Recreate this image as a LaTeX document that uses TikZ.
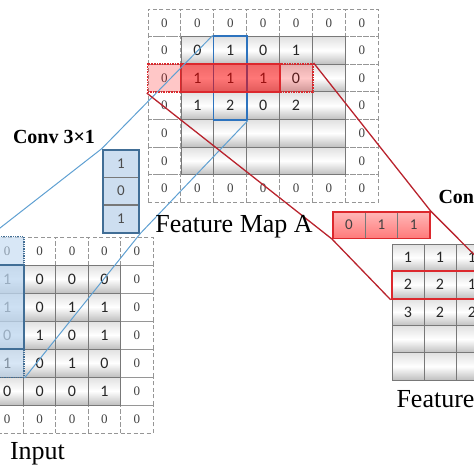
\documentclass[tikz,border=0pt]{standalone}
\usepackage{fontspec}
\setmainfont{Liberation Serif}
\newfontfamily\cellfont{Carlito}
\usetikzlibrary{positioning,fit}

\definecolor{padgray}{RGB}{150,150,150}
\definecolor{gridgray}{RGB}{120,120,120}
\definecolor{winblue}{RGB}{190,215,240}
\definecolor{kblue}{RGB}{205,222,240}
\definecolor{kblueline}{RGB}{65,110,150}
\definecolor{boxblue}{RGB}{45,115,190}
\definecolor{lineblue}{RGB}{95,160,210}
\definecolor{kred}{RGB}{220,40,45}
\definecolor{linered}{RGB}{185,35,45}

\begin{document}
\begin{tikzpicture}[x=1pt, y=-1pt,
    padcell/.style={draw=padgray, dash pattern=on 4pt off 2.5pt, line width=0.9pt, inner sep=0pt, font=\fontsize{13}{13}\selectfont, text=black!75},
    fmcell/.style={draw=gridgray, line width=0.7pt, inner sep=0pt, top color=black!12, bottom color=black!25, middle color=white, font=\cellfont\fontsize{16}{16}\selectfont, text=black!85},
    kcell/.style={draw=gridgray, line width=0.6pt, inner sep=0pt, font=\cellfont\fontsize{15}{15}\selectfont},
    hl/.style={inner sep=0pt},
    link/.style={line width=1pt},
    maplabel/.style={font=\fontsize{26}{26}\selectfont},
    convtitle/.style={font=\bfseries\fontsize{20}{20}\selectfont},
]
    \clip (0,0) rectangle (474,474);

    % feature map A, zero padded 7x7
    \begin{scope}[every node/.append style={minimum width=32.9pt, minimum height=27.6pt}]
        \foreach \c in {0,...,6} {
            \node[padcell] (A-0-\c) at ({148+32.9*(\c+.5)}, 22.8) {0};
            \node[padcell] (A-6-\c) at ({148+32.9*(\c+.5)}, 188.4) {0};
        }
        \foreach \r in {1,...,5} {
            \node[padcell] (A-\r-0) at (164.45, {9+27.6*(\r+.5)}) {0};
            \node[padcell] (A-\r-6) at (361.85, {9+27.6*(\r+.5)}) {0};
        }
        \foreach \r/\row in {1/{0,1,0,1,{}}, 2/{1,1,1,0,{}}, 3/{1,2,0,2,{}}, 4/{{},{},{},{},{}}, 5/{{},{},{},{},{}}}
            \foreach \v [count=\c] in \row
                \node[fmcell] (A-\r-\c) at ({148+32.9*(\c+.5)}, {9+27.6*(\r+.5)}) {\v};
    \end{scope}

    % input, padded
    \begin{scope}[every node/.append style={minimum width=32.4pt, minimum height=28pt}]
        \foreach \c in {2,...,6} {
            \node[padcell] (I-0-\c) at ({-73.8+32.4*(\c+.5)}, 251) {0};
            \node[padcell] (I-6-\c) at ({-73.8+32.4*(\c+.5)}, 419) {0};
        }
        \foreach \r in {1,...,5}
            \node[padcell] (I-\r-6) at (136.8, {237+28*(\r+.5)}) {0};
        \foreach \r/\row in {1/{1,0,0,0}, 2/{1,0,1,1}, 3/{0,1,0,1}, 4/{1,0,1,0}, 5/{0,0,0,1}}
            \foreach \v [count=\c from 2] in \row
                \node[fmcell] (I-\r-\c) at ({-73.8+32.4*(\c+.5)}, {237+28*(\r+.5)}) {\v};
    \end{scope}

    % feature map B
    \begin{scope}[every node/.append style={minimum width=32pt, minimum height=27.2pt}]
        \foreach \r/\row in {0/{1,1,1}, 1/{2,2,1}, 2/{3,2,2}, 3/{{},{},{}}, 4/{{},{},{}}}
            \foreach \v [count=\c from 0] in \row
                \node[fmcell] (B-\r-\c) at ({392+32*(\c+.5)}, {244+27.2*(\r+.5)}) {\v};
    \end{scope}

    % windows
    \node[hl, fit=(I-0-2)(I-4-2), draw=kblueline, densely dotted, line width=1.3pt, fill=winblue, fill opacity=0.6] (inwin) {};
    \node[hl, fit=(I-1-2)(I-3-2), draw=kblueline, line width=2pt, fill=winblue, fill opacity=0.4] (inbox) {};
    \node[hl, fit=(A-1-2)(A-3-2), draw=boxblue, line width=1.6pt] (acol) {};
    \node[hl, fit=(A-2-0)(A-2-4), draw=kred, densely dotted, line width=1.6pt, fill=red, fill opacity=0.22] (arow) {};
    \node[hl, fit=(A-2-1)(A-2-3), draw=kred, line width=1.8pt, fill=red, fill opacity=0.4] (abox) {};
    \node[hl, fit=(B-1-0)(B-1-2), draw=kred, line width=2pt] (brow) {};

    % kernels
    \node[kcell, fill=kblue, text=black!70, minimum width=36pt, minimum height=27pt] (kc-1) at (121,163.5) {1};
    \node[kcell, fill=kblue, text=black!70, minimum width=36pt, minimum height=27pt, below=0pt of kc-1] (kc-2) {0};
    \node[kcell, fill=kblue, text=black!70, minimum width=36pt, minimum height=27pt, below=0pt of kc-2] (kc-3) {1};
    \node[hl, fit=(kc-1)(kc-3), draw=kblueline, line width=2pt] (kcol) {};

    \node[kcell, top color=red!28, bottom color=red!52, text=black!75, minimum width=31.7pt, minimum height=26pt] (kr-1) at (349,225) {0};
    \node[kcell, top color=red!28, bottom color=red!52, text=black!75, minimum width=31.7pt, minimum height=26pt, right=0pt of kr-1] (kr-2) {1};
    \node[kcell, top color=red!28, bottom color=red!52, text=black!75, minimum width=31.7pt, minimum height=26pt, right=0pt of kr-2] (kr-3) {1};
    \node[hl, fit=(kr-1)(kr-3), draw=kred, line width=1.6pt] (krow) {};

    % receptive field lines
    \draw[link, lineblue] (inwin.north west) -- (kcol.north west) -- (acol.north west);
    \draw[link, lineblue] (inwin.south east) -- (kcol.south east) -- (acol.south east);
    \draw[link, linered, line width=1.3pt] (arow.south west) -- (krow.south west) -- (brow.south west);
    \draw[link, linered, line width=1.3pt] (arow.north east) -- (krow.north east) -- (brow.north east);

    \node[maplabel, anchor=base] (labA) at (234,232) {Feature Map A};
    \node[maplabel, anchor=base] (labin) at (37.5,459) {Input};
    \node[maplabel, anchor=base west] (labB) at (393,407) {Feature};
    \node[convtitle, anchor=base] (conv31) at (54,143) {Conv 3×1};
    \node[convtitle, anchor=base west] (conv13) at (435,203) {Conv};
\end{tikzpicture}
\end{document}
